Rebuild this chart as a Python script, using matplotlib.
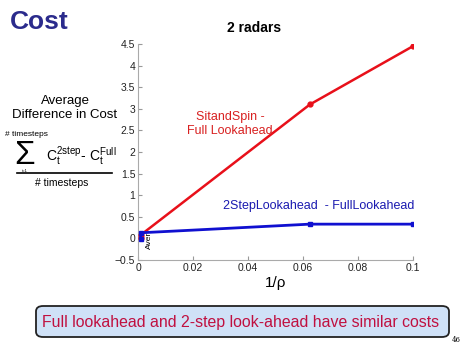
import matplotlib.pyplot as plt
from matplotlib.patches import FancyBboxPatch

plt.rcParams['font.family'] = ['Liberation Sans', 'DejaVu Sans']
plt.rcParams['mathtext.fontset'] = 'custom'
plt.rcParams['mathtext.rm'] = 'Liberation Sans'

# data
inv_rho_red = [0.001, 0.001, 0.0625, 0.1]
sitandspin = [0.0, 0.08, 3.1, 4.45]
inv_rho_blue = [0.001, 0.001, 0.0625, 0.1]
twostep = [-0.02, 0.13, 0.33, 0.33]
xticks = [0, 0.02, 0.04, 0.06, 0.08, 0.1]
xtick_labels = ['0', '0.02', '0.04', '0.06', '0.08', '0.1']
yticks = [-0.5, 0, 0.5, 1, 1.5, 2, 2.5, 3, 3.5, 4, 4.5]
ytick_labels = ['\u22120.5', '0', '0.5', '1', '1.5', '2', '2.5', '3', '3.5', '4', '4.5']

W, H = 474, 355
fig = plt.figure(figsize=(W / 100, H / 100), dpi=100)


def fx(px):
    return px / W


def fy(py):
    return 1 - py / H


ax = fig.add_axes([fx(138), fy(260), fx(413) - fx(138), fy(44) - fy(260)])
ax.plot(inv_rho_red, sitandspin, color='#e8101a', lw=1.8, marker='o', ms=3.5,
        mfc='#e8101a', zorder=3)
ax.plot(inv_rho_blue, twostep, color='#1010d0', lw=2, marker='s', ms=3.5,
        mfc='#1010d0', zorder=4)
ax.set_xlim(0, 0.1)
ax.set_ylim(-0.5, 4.5)
ax.set_xticks(xticks)
ax.set_xticklabels(xtick_labels)
ax.set_yticks(yticks)
ax.set_yticklabels(ytick_labels)
ax.tick_params(direction='in', length=3, labelsize=7.5, labelcolor='#222222',
               color='#999999', pad=2)
for s in ['top', 'right']:
    ax.spines[s].set_visible(False)
for s in ['left', 'bottom']:
    ax.spines[s].set_color('#aaaaaa')
ax.set_xlabel('1/\u03c1', fontsize=11, labelpad=2)

ax.text(0.0335, 2.64, 'SitandSpin -\nFull Lookahead', color='#d82020', fontsize=9,
        ha='center', va='center', linespacing=1.2)
ax.text(0.0657, 0.76, '2StepLookahead  - FullLookahead', color='#1a1ab0',
        fontsize=9, ha='center', va='center')

fig.text(fx(10), fy(22), 'Cost', color='#2b2b8c', fontsize=19, fontweight='bold',
         va='center')
fig.text(fx(254), fy(28), '2 radars', fontsize=10, fontweight='bold', ha='center',
         va='center')
fig.text(fx(149), fy(240), 'Aver', fontsize=6, rotation=90, ha='center', va='center')

fig.text(fx(65), fy(108), 'Average\nDifference in Cost', fontsize=9.5, ha='center',
         va='center', linespacing=1.2)
fig.text(fx(5), fy(135), '# timesteps', fontsize=6, va='center')
fig.text(fx(25), fy(155), '\u03a3', fontsize=24, ha='center', va='center')
fig.text(fx(25), fy(171), 't=1', fontsize=3, ha='center', va='center')
fig.text(fx(46), fy(156), r'$\mathregular{C_t^{2step}\text{-}\ C_t^{Full}}$',
         fontsize=10, va='center')
fig.add_artist(plt.Line2D([fx(17), fx(112)], [fy(173), fy(173)], color='black',
                          lw=1.2))
fig.text(fx(62), fy(183), '# timesteps', fontsize=7.5, ha='center', va='center')

box = FancyBboxPatch((fx(36), fy(337)), fx(449) - fx(36), fy(306) - fy(337),
                     boxstyle='round,pad=0,rounding_size=0.015',
                     transform=fig.transFigure, facecolor='#cfe1f7',
                     edgecolor='#222222', lw=1.3)
fig.add_artist(box)
fig.text(fx(241), fy(322), 'Full lookahead and 2-step look-ahead have similar costs',
         color='#c01040', fontsize=11.4, ha='center', va='center')
fig.text(fx(452), fy(340), '46', fontsize=5, family='DejaVu Serif', va='center')

plt.savefig('out.png', dpi=100)
